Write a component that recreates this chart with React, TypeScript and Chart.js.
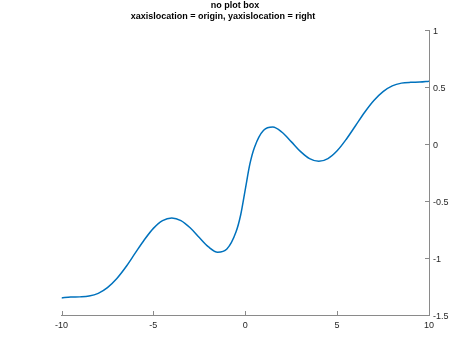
import React, { useEffect, useRef } from "react";
import { Chart, registerables } from "chart.js";

Chart.register(...registerables);

const xValues = [
  -10, -9.5, -9, -8.5, -8, -7.5, -7, -6.5, -6, -5.5, -5, -4.5, -4, -3.5, -3, -2.5, -2, -1.5, -1, -0.5, -0.25,
  0, 0.25, 0.5, 1, 1.5, 2, 2.5, 3, 3.5, 4, 4.5, 5, 5.5, 6, 6.5, 7, 7.5, 8, 8.5, 9, 9.5, 10,
];
const yValues = [
  -1.35, -1.343, -1.341, -1.334, -1.31, -1.26, -1.182, -1.079, -0.96, -0.842, -0.74, -0.672, -0.649, -0.672,
  -0.735, -0.821, -0.903, -0.949, -0.921, -0.77, -0.623, -0.4, -0.177, -0.03, 0.121, 0.149, 0.103, 0.021,
  -0.065, -0.128, -0.151, -0.128, -0.06, 0.042, 0.16, 0.279, 0.382, 0.46, 0.51, 0.534, 0.541, 0.543, 0.551,
];
const xTicks = [-10, -5, 0, 5, 10];
const yTicks = [-1.5, -1, -0.5, 0, 0.5, 1];
const titleLines = ["no plot box", "xaxislocation = origin, yaxislocation = right"];

const AXIS_COLOR = "#8a8a8a";
const TEXT_COLOR = "#262626";
const FONT = "'Liberation Sans', Arial, sans-serif";

const inwardTicks = {
  id: "inwardTicks",
  afterDraw(chart: any) {
    const { ctx, chartArea } = chart;
    const xs = chart.scales.x;
    const ys = chart.scales.y;
    ctx.save();
    ctx.strokeStyle = AXIS_COLOR;
    ctx.lineWidth = 1;
    ctx.beginPath();
    for (const t of xs.ticks) {
      const px = Math.round(xs.getPixelForValue(t.value)) + 0.5;
      ctx.moveTo(px, chartArea.bottom);
      ctx.lineTo(px, chartArea.bottom - 4);
    }
    for (const t of ys.ticks) {
      const py = Math.round(ys.getPixelForValue(t.value)) + 0.5;
      ctx.moveTo(chartArea.right, py);
      ctx.lineTo(chartArea.right - 4, py);
    }
    ctx.stroke();
    // title, two centred lines
    ctx.fillStyle = "#000";
    ctx.font = `bold 9px ${FONT}`;
    ctx.textAlign = "center";
    ctx.textBaseline = "middle";
    ctx.fillText(titleLines[0], 235, 5.8);
    ctx.fillText(titleLines[1], 223, 16.3);
    ctx.restore();
  },
};

export default function App() {
  const ref = useRef<HTMLCanvasElement | null>(null);
  useEffect(() => {
    if (!ref.current) return;
    const data = xValues.map((x, i) => ({ x, y: yValues[i] }));
    const chart = new Chart(ref.current, {
      type: "scatter",
      data: {
        datasets: [
          {
            data,
            showLine: true,
            borderColor: "#0072BD",
            borderWidth: 1.5,
            pointRadius: 0,
            cubicInterpolationMode: "monotone",
            fill: false,
          },
        ],
      },
      options: {
        responsive: false,
        animation: false,
        events: [],
        layout: { padding: { left: 61.5, top: 30, right: 0, bottom: 0 } },
        plugins: {
          legend: { display: false },
          tooltip: { enabled: false },
          title: { display: false },
        },
        scales: {
          x: {
            type: "linear",
            position: "bottom",
            min: -10,
            max: 10,
            afterBuildTicks: (s: any) => {
              s.ticks = xTicks.map((v) => ({ value: v }));
            },
            afterFit: (s: any) => {
              s.height = 40;
            },
            grid: { display: true, drawOnChartArea: false, drawTicks: false },
            border: { display: true, color: AXIS_COLOR, width: 1 },
            ticks: {
              padding: 5,
              color: TEXT_COLOR,
              font: { family: FONT, size: 9 },
              maxRotation: 0,
              callback: (v: any) => String(v),
            },
          },
          y: {
            type: "linear",
            position: "right",
            min: -1.5,
            max: 1,
            afterBuildTicks: (s: any) => {
              s.ticks = yTicks.map((v) => ({ value: v }));
            },
            afterFit: (s: any) => {
              s.width = 45;
            },
            grid: { display: true, drawOnChartArea: false, drawTicks: false },
            border: { display: true, color: AXIS_COLOR, width: 1 },
            ticks: {
              padding: 4,
              labelOffset: 1.5,
              color: TEXT_COLOR,
              font: { family: FONT, size: 9 },
              callback: (v: any) => String(v),
            },
          },
        },
      },
      plugins: [inwardTicks],
    } as any);
    return () => chart.destroy();
  }, []);
  return (
    <div style={{ position: "fixed", left: 0, top: 0, width: 474, height: 355, background: "#fff" }}>
      <canvas ref={ref} width={474} height={355} style={{ display: "block" }} />
    </div>
  );
}
